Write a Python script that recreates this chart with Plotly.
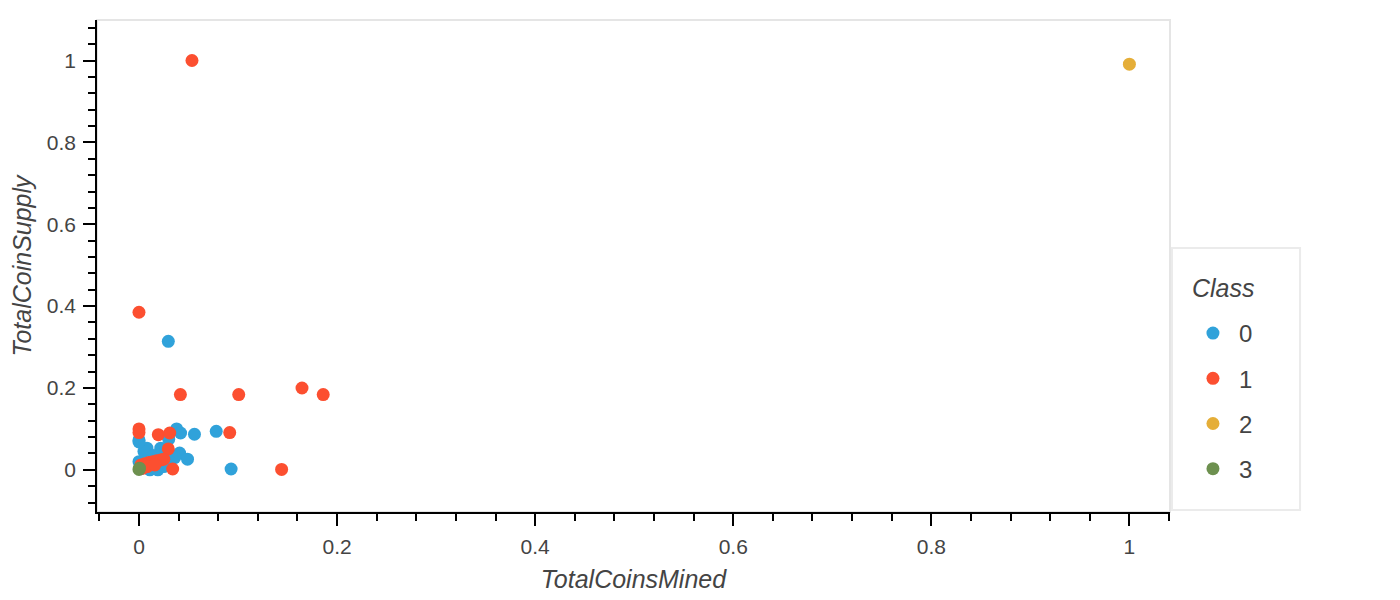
import plotly.graph_objects as go

# class labels and colours (hvplot default cycle)
classes = ["0", "1", "2", "3"]
colors = ["#30a2da", "#fc4f30", "#e5ae38", "#6d904f"]

# points, one pair of lists per class
mined_0 = [0.0296, 0.038, 0.042, 0.056, 0.078, 0.0, 0.008, 0.022, 0.041, 0.049,
           0.093, 0.0, 0.011, 0.019, 0.025, 0.03, 0.005, 0.015, 0.033, 0.003,
           0.0, 0.002, 0.013, 0.017, 0.036, 0.024, 0.031]
supply_0 = [0.314, 0.100, 0.090, 0.087, 0.094, 0.073, 0.053, 0.053, 0.041, 0.026,
            0.002, 0.020, 0.000, 0.000, 0.008, 0.075, 0.045, 0.035, 0.035, 0.010,
            0.068, 0.003, 0.015, 0.005, 0.030, 0.040, 0.020]

mined_1 = [0.0535, 0.0, 0.0418, 0.1007, 0.1646, 0.186, 0.0, 0.0, 0.0195, 0.031,
           0.0916, 0.0296, 0.144, 0.034, 0.002, 0.006, 0.010, 0.014, 0.018, 0.022,
           0.025, 0.008, 0.016, 0.004]
supply_1 = [1.0, 0.385, 0.184, 0.184, 0.200, 0.184, 0.100, 0.091, 0.086, 0.090,
            0.091, 0.051, 0.001, 0.002, 0.012, 0.015, 0.018, 0.020, 0.022, 0.024,
            0.026, 0.008, 0.012, 0.004]

mined_2 = [1.0]
supply_2 = [0.991]

mined_3 = [0.0, 0.0005]
supply_3 = [0.001, 0.004]

xs = [mined_0, mined_1, mined_2, mined_3]
ys = [supply_0, supply_1, supply_2, supply_3]

grey = "#444444"

fig = go.Figure()
for name, col, x, y in zip(classes, colors, xs, ys):
    fig.add_trace(go.Scatter(x=x, y=y, mode="markers", name=name, legendgroup=name,
                             marker=dict(color=col, size=13, line=dict(width=0))))

axis_style = dict(
    showgrid=False, zeroline=False, showline=True, linecolor="black", linewidth=1.7,
    ticks="outside", ticklen=12, tickwidth=1.7, tickcolor="black",
    tickfont=dict(size=21, color=grey), automargin=False,
    minor=dict(dtick=0.04, ticks="outside", ticklen=7, tickwidth=1.5,
               tickcolor="black", showgrid=False),
)

fig.update_xaxes(range=[-0.0424, 1.041], dtick=0.2, tick0=0, ticklabelstandoff=3,
                 title=dict(text="TotalCoinsMined", standoff=13,
                            font=dict(size=25, color=grey, style="italic")),
                 **axis_style)
fig.update_yaxes(range=[-0.103, 1.099], dtick=0.2, tick0=0, ticklabelstandoff=3,
                 title=dict(text="TotalCoinSupply", standoff=17,
                            font=dict(size=25, color=grey, style="italic")),
                 **axis_style)

# light outline round the plot area and round the legend
fig.add_shape(type="rect", xref="paper", yref="paper", x0=0, y0=0, x1=1, y1=1,
              line=dict(color="#e5e5e5", width=2), layer="below")
fig.add_shape(type="rect", xref="paper", yref="paper", x0=1.0019, y0=0.004,
              x1=1.1212, y1=0.5366, line=dict(color="#ebebeb", width=2), layer="below")

fig.add_annotation(text="Class", xref="paper", yref="paper", x=1.0185, y=0.4553,
                   xanchor="left", yanchor="middle", showarrow=False,
                   font=dict(size=25, color=grey, style="italic"))

# page body has an 8px margin, so the figure is shrunk and shifted to match
fig.update_layout(
    width=1392, height=592,
    margin=dict(l=89, r=230, t=12, b=88),
    paper_bgcolor="white", plot_bgcolor="white",
    font=dict(family="Liberation Sans, Arial, sans-serif", color=grey),
    legend=dict(
        font=dict(size=24, color=grey),
        x=1.0158, xanchor="left", y=0.4085, yanchor="top",
        borderwidth=0, bgcolor="rgba(0,0,0,0)",
        tracegroupgap=11, itemwidth=42, itemsizing="trace",
    ),
)

fig.write_html("out.html")
